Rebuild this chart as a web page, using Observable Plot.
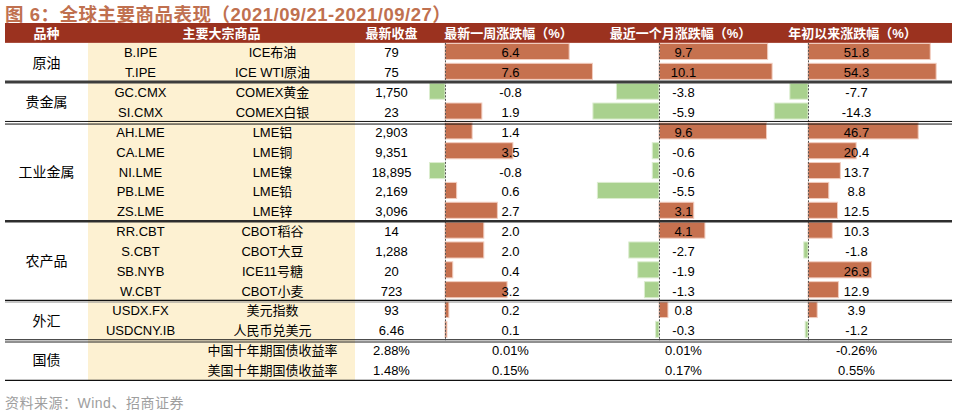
<!DOCTYPE html>
<html>
<head>
<meta charset="utf-8">
<script src="https://cdn.jsdelivr.net/npm/d3@7"></script>
<script src="https://cdn.jsdelivr.net/npm/@observablehq/plot@0.6"></script>
<style>
  body { margin: 0; background: #fff; width: 957px; height: 411px; overflow: hidden; }
  #title { height: 22px; line-height: 22px; padding-left: 5px; font: bold 18.5px "Liberation Sans", "Noto Sans CJK SC", sans-serif; color: #c0704f; white-space: nowrap; letter-spacing: 0.5px; }
  #source { margin-top: 8px; line-height: 16px; padding-left: 5px; font: 14px "Liberation Sans", "Noto Sans CJK SC", sans-serif; color: #9e9e9e; letter-spacing: 0.5px; }
  svg { display: block; }
</style>
</head>
<body>
<div id="title">图 6：全球主要商品表现（2021/09/21-2021/09/27）</div>
<div id="chart"></div>
<div id="source">资料来源：Wind、招商证券</div>
<script>
// ---- data ----
const groups = ["原油", "贵金属", "工业金属", "农产品", "外汇", "国债"];
const groupSizes = [2, 2, 5, 4, 2, 2];
const codes = ["B.IPE", "T.IPE", "GC.CMX", "SI.CMX", "AH.LME", "CA.LME", "NI.LME", "PB.LME", "ZS.LME", "RR.CBT", "S.CBT", "SB.NYB", "W.CBT", "USDX.FX", "USDCNY.IB"];
const names = ["ICE布油", "ICE WTI原油", "COMEX黄金", "COMEX白银", "LME铝", "LME铜", "LME镍", "LME铅", "LME锌", "CBOT稻谷", "CBOT大豆", "ICE11号糖", "CBOT小麦", "美元指数", "人民币兑美元"];
const closes = ["79", "75", "1,750", "23", "2,903", "9,351", "18,895", "2,169", "3,096", "14", "1,288", "20", "723", "93", "6.46"];
const weekChg = [6.4, 7.6, -0.8, 1.9, 1.4, 3.5, -0.8, 0.6, 2.7, 2.0, 2.0, 0.4, 3.2, 0.2, 0.1];
const monthChg = [9.7, 10.1, -3.8, -5.9, 9.6, -0.6, -0.6, -5.5, 3.1, 4.1, -2.7, -1.9, -1.3, 0.8, -0.3];
const ytdChg = [51.8, 54.3, -7.7, -14.3, 46.7, 20.4, 13.7, 8.8, 12.5, 10.3, -1.8, 26.9, 12.9, 3.9, -1.2];

const bondNames = ["中国十年期国债收益率", "美国十年期国债收益率"];
const bondYields = ["2.88%", "1.48%"];
const bondWeek = ["0.01%", "0.15%"];
const bondMonth = ["0.01%", "0.17%"];
const bondYtd = ["-0.26%", "0.55%"];

const headers = ["品种", "主要大宗商品", "最新收盘", "最新一周涨跌幅（%）", "最近一个月涨跌幅（%）", "年初以来涨跌幅（%）"];

// ---- layout ----
const W = 957, ROW = 19.85, NROWS = 18;
const left = 5, right = 952;
const band = {x1: 88, x2: 355};
const colX = {group: 46, code: 140, name: 272, close: 391};
const headerX = [46, 221, 391, 508, 680, 852];
// bar columns: zero line position, pixels per percentage point, label centre
const barCols = [
  {key: "week", values: weekChg, bond: bondWeek, zero: 445, k: 19.4, label: 510},
  {key: "month", values: monthChg, bond: bondMonth, zero: 659, k: 11.2, label: 683},
  {key: "ytd", values: ytdChg, bond: bondYtd, zero: 808, k: 2.36, label: 856}
];
const RED = "#c6714f", GREEN = "#a9d18e";

// row index: 0 = header, 1..15 commodities, 16..17 bonds
const rows = codes.map((c, j) => ({i: j + 1, code: c, name: names[j], close: closes[j]}));
const bonds = bondNames.map((n, j) => ({i: codes.length + 1 + j, name: n, close: bondYields[j]}));

const bars = [];
const barLabels = [];
for (const col of barCols) {
  col.values.forEach((v, j) => {
    bars.push({col, i: j + 1, v});
    barLabels.push({x: col.label, i: j + 1, text: v.toFixed(1)});
  });
  col.bond.forEach((t, j) => barLabels.push({x: col.label, i: codes.length + 1 + j, text: t}));
}

// group label centres and separators
let start = 1;
const groupLabels = [];
const boundaries = [];
groups.forEach((g, k) => {
  groupLabels.push({g, y: start + groupSizes[k] / 2});
  start += groupSizes[k];
  boundaries.push(start);
});
// separator styles between groups
const sepStyles = [
  [{w: 3, c: "#3d3d3d", dy: -1}],
  [{w: 1, c: "#111", dy: -1.3}, {w: 1, c: "#111", dy: 1.3}],
  [{w: 2.6, c: "#2e2e2e", dy: -0.8}],
  [{w: 1.2, c: "#111", dy: -1}, {w: 1.2, c: "#8a8a8a", dy: 0.6}],
  [{w: 1.1, c: "#111", dy: -1.3}, {w: 1.1, c: "#222", dy: 0.9}],
  [{w: 1.2, c: "#111", dy: -0.5}]
];
const seps = [];
boundaries.forEach((b, k) => sepStyles[k].forEach(s => seps.push({y: b, ...s})));

const font = '"Liberation Sans", Arial, "Noto Sans CJK SC", sans-serif';

const marks = [
  // yellow band behind the code and name columns
  Plot.rect([band], {x1: "x1", x2: "x2", y1: () => 1, y2: () => NROWS, fill: "#fdf1d2"}),
  // header bar
  Plot.rect([{x1: left, x2: right}], {x1: "x1", x2: "x2", y1: () => 0, y2: () => 1, fill: "#9b321f"}),
  Plot.text(headers, {x: (d, j) => headerX[j], y: () => 0.5, text: d => d, fill: "white", fontWeight: "bold", fontSize: 13, ariaLabel: "header-text"}),
  // change bars
  Plot.rect(bars, {
    x1: d => d.col.zero,
    x2: d => d.col.zero + d.v * d.col.k,
    y1: d => d.i + 0.03,
    y2: d => d.i + 0.84,
    fill: d => d.v >= 0 ? RED : GREEN,
    stroke: d => d.v >= 0 ? "#f2cdbf" : "#dcedd0",
    strokeWidth: 1
  }),
  // dotted zero lines
  Plot.ruleX(barCols, {x: "zero", y1: () => 1, y2: () => 16, stroke: "#555", strokeDasharray: "2,1.5", strokeWidth: 1}),
  // text columns
  Plot.text(groupLabels, {x: () => colX.group, y: "y", text: "g", fontSize: 14, ariaLabel: "group-text"}),
  Plot.text(rows, {x: () => colX.code, y: d => d.i + 0.5, text: "code", fontSize: 13}),
  Plot.text(rows, {x: () => colX.name, y: d => d.i + 0.5, text: "name", fontSize: 13, ariaLabel: "name-text"}),
  Plot.text(rows, {x: () => colX.close, y: d => d.i + 0.5, text: "close", fontSize: 13}),
  Plot.text(bonds, {x: () => colX.name, y: d => d.i + 0.5, text: "name", fontSize: 13, ariaLabel: "bond-text"}),
  Plot.text(bonds, {x: () => colX.close, y: d => d.i + 0.5, text: "close", fontSize: 13}),
  Plot.text(barLabels, {x: "x", y: d => d.i + 0.5, text: "text", fontSize: 13}),
  // group separators
  ...seps.map(s => Plot.ruleY([s], {y: "y", x1: () => left, x2: () => right, stroke: s.c, strokeWidth: s.w, dy: s.dy}))
];

const svg = Plot.plot({
  width: W,
  height: 362,
  margin: 0,
  x: {type: "linear", domain: [0, W], range: [0, W], axis: null},
  y: {type: "linear", domain: [0, NROWS], range: [1, 1 + NROWS * ROW], axis: null},
  style: {fontFamily: font, fontSize: "13px", background: "white", color: "#000"},
  marks
});

// spacing for CJK labels
const spacing = {"header-text": "2.2px", "group-text": "2px", "bond-text": "1.8px", "name-text": "0.3px"};
for (const [label, ls] of Object.entries(spacing)) {
  svg.querySelectorAll(`g[aria-label="${label}"] text`).forEach(t => t.style.letterSpacing = ls);
}
document.getElementById("chart").appendChild(svg);
</script>
</body>
</html>
